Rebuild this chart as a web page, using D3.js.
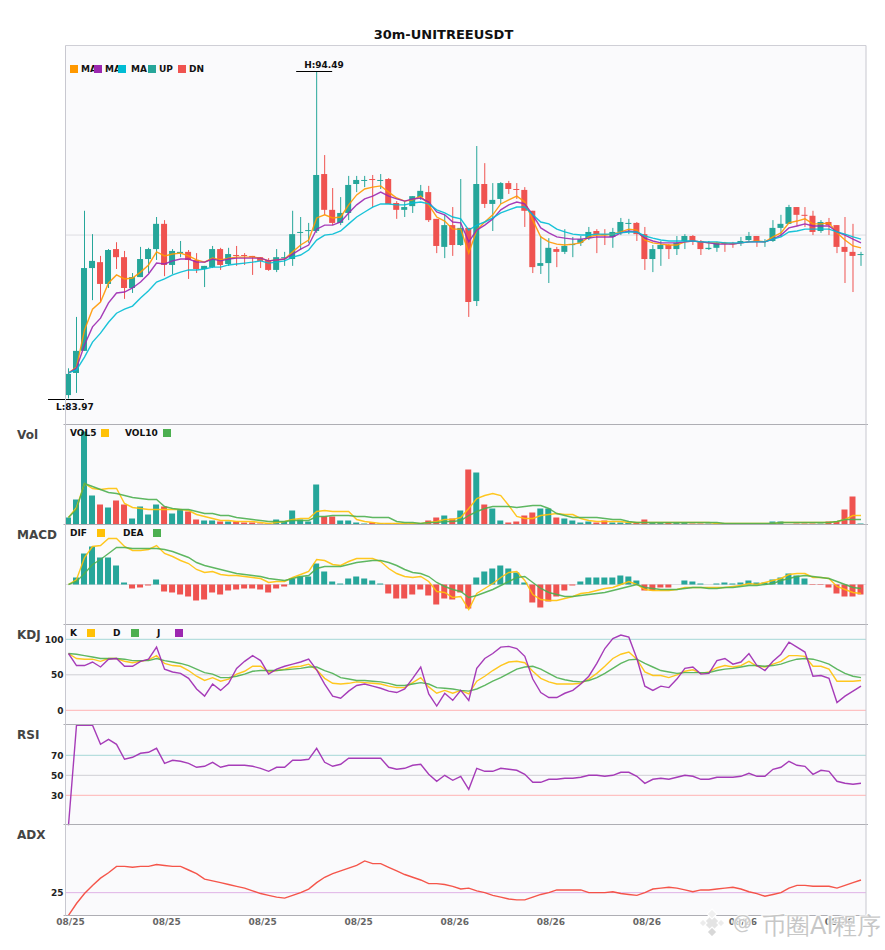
<!DOCTYPE html>
<html><head><meta charset="utf-8">
<script src="https://cdn.jsdelivr.net/npm/d3@7/dist/d3.min.js"></script>
<style>html,body{margin:0;padding:0;background:#fff}svg{display:block}text{font-family:"DejaVu Sans",sans-serif}</style>
</head><body><svg id="c" width="885" height="950"></svg>
<script>
const opens=[84.08,84.79,85.50,88.16,88.35,87.65,88.77,88.51,87.52,87.87,88.45,88.77,89.58,88.26,88.64,88.68,88.42,88.13,88.19,88.77,88.29,88.58,88.58,88.55,88.51,88.42,88.10,88.48,88.45,89.29,89.35,89.35,91.18,90.03,89.61,89.93,90.86,90.96,91.02,90.96,91.02,90.25,90.03,90.15,90.44,90.60,89.74,88.84,89.54,88.90,89.45,87.10,90.86,90.22,90.38,90.89,90.70,90.67,90.00,88.23,88.32,88.77,88.68,88.90,88.97,89.12,89.35,89.25,89.16,89.32,89.58,89.61,89.25,88.45,88.77,88.90,88.77,89.03,89.19,89.03,88.77,88.81,88.97,88.97,88.97,89.06,89.19,89.00,89.03,89.45,89.58,90.12,89.87,89.84,89.35,89.64,89.54,88.84,88.68,88.58];
const closes=[84.76,85.50,88.16,88.39,87.65,88.74,88.51,87.52,87.87,88.45,88.77,89.58,88.26,88.71,88.68,88.42,88.13,88.23,88.77,88.26,88.61,88.55,88.55,88.51,88.39,88.10,88.51,88.51,89.25,89.32,89.38,91.15,90.03,89.61,89.93,90.83,90.99,90.99,90.99,90.99,90.22,90.03,90.12,90.47,90.64,89.70,88.87,89.54,88.90,89.45,87.07,90.86,90.22,90.35,90.89,90.70,90.67,90.00,88.19,88.32,88.81,88.68,88.87,88.93,89.09,89.32,89.25,89.22,89.32,89.64,89.61,89.25,88.45,88.77,88.90,88.77,88.97,89.19,89.03,88.77,88.81,88.97,88.93,88.93,89.03,89.19,89.03,89.03,89.45,89.58,90.12,89.87,89.84,89.32,89.64,89.54,88.84,88.68,88.55,88.61];
const highs=[84.94,86.59,90.00,89.25,88.55,88.77,88.99,88.71,88.00,88.84,88.81,89.80,89.70,88.77,89.03,88.74,88.64,88.23,88.87,88.81,88.81,88.87,88.64,88.55,88.51,88.48,88.77,88.68,90.00,89.80,89.61,94.49,91.79,90.73,90.44,91.12,91.12,91.12,91.15,91.18,91.05,90.31,90.31,90.47,90.83,90.80,89.74,89.87,90.12,91.02,89.45,92.08,91.53,90.89,90.92,90.96,90.89,90.76,90.00,89.19,89.12,88.84,89.41,89.16,89.19,89.48,89.41,89.41,89.45,89.77,89.74,89.64,89.48,88.90,89.03,88.93,89.19,89.25,89.22,89.06,89.03,89.00,89.00,89.00,89.16,89.32,89.19,89.09,89.70,89.87,90.19,90.12,90.12,90.00,89.70,89.77,89.54,89.80,89.58,88.68];
const lows=[83.97,84.15,85.50,87.13,87.07,87.52,88.13,87.17,87.36,87.87,88.00,88.42,87.90,87.97,88.51,87.81,88.00,87.55,88.16,88.10,88.23,88.23,88.26,87.94,88.16,88.07,88.03,88.23,88.23,88.74,88.97,89.29,89.87,89.54,89.54,89.70,90.60,90.76,90.12,90.70,90.22,89.74,89.80,89.93,90.35,89.64,88.64,88.48,88.55,88.87,86.59,86.94,90.09,89.35,90.22,90.54,90.38,89.48,88.00,87.97,87.68,88.19,88.61,88.51,88.87,89.06,88.64,88.90,88.81,89.22,89.25,89.03,88.10,88.03,88.23,88.45,88.58,88.77,88.90,88.58,88.74,88.68,88.68,88.81,88.87,89.00,88.84,88.84,89.00,89.16,89.58,89.51,89.48,89.22,89.29,89.22,88.64,87.68,87.39,88.23];
const ma5=[84.79,84.98,86.17,86.84,87.07,87.68,87.94,87.81,87.84,88.03,88.26,88.68,88.55,88.61,88.64,88.55,88.42,88.35,88.48,88.42,88.48,88.51,88.51,88.51,88.48,88.39,88.42,88.45,88.68,88.90,89.06,89.77,89.87,89.77,89.80,90.19,90.51,90.70,90.76,90.80,90.60,90.41,90.31,90.35,90.47,90.19,89.80,89.67,89.41,89.41,88.64,89.38,89.64,89.87,90.22,90.35,90.47,90.28,89.70,89.16,89.00,88.93,88.90,88.93,88.97,89.16,89.22,89.22,89.25,89.32,89.41,89.38,89.06,88.97,88.93,88.90,88.90,89.00,89.03,89.00,88.97,88.97,88.97,88.93,88.97,89.00,89.03,89.00,89.16,89.29,89.61,89.67,89.74,89.58,89.58,89.61,89.29,89.06,88.87,88.81];
const ma10=[84.79,84.95,85.69,86.27,86.55,87.04,87.36,87.39,87.52,87.71,87.97,88.32,88.29,88.39,88.45,88.45,88.35,88.35,88.45,88.39,88.45,88.48,88.48,88.48,88.48,88.39,88.42,88.45,88.61,88.77,88.90,89.41,89.54,89.54,89.64,89.93,90.19,90.38,90.47,90.60,90.47,90.38,90.31,90.38,90.41,90.28,89.96,89.87,89.64,89.61,89.00,89.38,89.54,89.74,90.03,90.19,90.28,90.22,89.87,89.45,89.29,89.16,89.12,89.09,89.09,89.12,89.16,89.16,89.16,89.29,89.35,89.32,89.12,89.03,88.97,88.97,88.97,89.00,89.03,89.00,88.97,88.93,88.93,88.93,88.97,89.00,89.00,89.00,89.09,89.22,89.45,89.51,89.58,89.51,89.51,89.51,89.32,89.22,89.09,88.97];
const ma20=[84.79,84.89,85.30,85.78,86.07,86.42,86.71,86.84,86.94,87.20,87.43,87.71,87.81,87.94,88.03,88.10,88.10,88.13,88.19,88.19,88.26,88.29,88.32,88.35,88.39,88.32,88.35,88.39,88.51,88.58,88.74,89.06,89.22,89.25,89.35,89.58,89.80,89.96,90.12,90.22,90.22,90.19,90.19,90.25,90.28,90.22,90.03,89.93,89.80,89.74,89.38,89.54,89.64,89.77,89.93,90.03,90.12,90.12,89.87,89.64,89.58,89.41,89.32,89.25,89.22,89.22,89.25,89.25,89.25,89.29,89.32,89.32,89.19,89.12,89.06,89.03,89.03,89.03,89.03,89.00,89.00,89.00,88.97,88.97,88.97,89.00,89.00,89.00,89.09,89.16,89.32,89.35,89.41,89.41,89.41,89.41,89.32,89.25,89.16,89.09];
const volumes=[7,25,93,29,20,17,24,20,6,18,10,20,18,11,15,13,5,4,4,3,3,3,2,2,1,1,5,3,14,5,3,40,8,8,4,4,2,1,2,1,1,1,1,1,1,4,7,9,6,14,55,52,20,16,4,2,3,9,12,16,16,7,6,4,2,3,2,4,2,2,2,2,5,2,2,2,2,2,1,1,1,1,1,1,0.5,0.5,0.5,0.5,3,3,0.5,1,1,1,1,3,3,15,28,1];
const vol5=[7,17,41,36,35,36,36,21,17,16,15,15,15,15,15,14,10,8,6,4,4,3,3,3,2,1,2,3,5,6,6,13,14,13,13,13,5,3,2,1,1,1,1,1,1,2,3,5,5,7,16,26,29,31,29,19,8,6,6,9,10,11,10,10,6,4,3,3,3,3,2,2,2,2,2,2,2,2,2,2,2,1,1,1,1,1,1,1,1,2,2,2,2,2,2,2,3,5,9,9];
const vol10=[7,15,41,38,35,32,31,29,27,26,25,25,18,16,15,15,13,11,11,9,9,7,6,5,4,3,3,3,4,4,4,8,8,9,9,9,8,8,7,7,7,3,2,2,1,2,2,3,3,4,9,13,16,18,18,18,17,18,19,19,16,11,9,7,7,7,7,6,5,5,3,2,2,2,2,2,2,2,2,2,2,2,1,1,1,1,1,1,1,2,2,2,2,2,2,2,3,5,5,5];
const macdHist=[0,7,31,38,27,27,19,2,-4,-3,-1,5,-7,-8,-10,-12,-16,-15,-8,-10,-6,-5,-4,-4,-5,-8,-4,-2,6,8,8,21,13,3,1,6,8,6,4,1,-9,-14,-14,-10,-5,-11,-20,-14,-15,-8,-24,7,13,16,19,16,12,2,-18,-23,-17,-12,-6,-1,3,7,7,7,7,9,8,4,-6,-6,-3,-3,0,4,3,1,0,1,2,1,2,4,2,2,5,7,11,9,6,-0.5,-0.5,-3,-9,-12,-12,-10];
const dif=[0,5,27,38,39,46,46,38,34,34,35,39,31,28,24,21,15,12,13,10,9,9,8,7,6,2,3,3,7,10,13,25,24,20,19,23,26,26,26,23,16,11,8,7,8,3,-7,-8,-13,-12,-25,-9,-4,1,7,12,13,4,-10,-15,-16,-16,-14,-12,-9,-8,-6,-4,-3,0,3,0,-5,-6,-6,-6,-5,-3,-3,-3,-3,-3,-3,-2,-1,1,0,2,4,6,10,11,11,7,7,6,-2,-5,-8,-9];
const dea=[0,3,11,20,25,31,37,37,36,36,36,36,35,33,30,27,22,19,17,15,13,11,10,9,8,6,5,4,6,8,9,16,18,18,18,20,22,23,24,24,22,19,15,12,11,8,2,-2,-5,-7,-13,-11,-8,-5,-1,3,7,8,2,-4,-8,-10,-12,-12,-11,-10,-9,-8,-6,-4,-2,0,-3,-4,-5,-5,-5,-4,-3,-3,-4,-4,-3,-3,-2,-1,-1,0,1,4,6,8,9,8,7,6,3,0,-3,-4];
const kLine=[80,73,72,72,69,73,73,69,67,69,71,77,66,63,62,56,48,42,46,41,44,51,55,62,62,54,56,58,61,62,65,57,45,38,37,38,40,39,38,37,34,32,32,39,46,33,24,28,24,28,23,41,48,56,63,68,69,67,55,45,40,37,37,37,38,44,52,62,73,79,82,72,54,49,49,46,50,55,57,52,54,60,63,61,63,69,62,61,65,69,77,77,76,62,62,58,41,41,41,42];
const dLine=[80,79,77,75,73,73,73,72,70,70,70,73,70,68,66,63,58,53,51,46,46,48,51,55,56,56,56,57,58,59,61,61,56,52,46,44,42,42,41,40,38,35,35,37,39,37,32,31,30,28,27,30,35,41,46,52,58,61,62,58,52,46,43,41,40,42,46,52,59,66,71,72,66,61,56,54,52,53,53,53,53,56,58,59,61,63,63,62,63,65,69,72,73,72,69,65,58,52,48,46];
const jLine=[80,63,63,68,61,72,73,62,62,69,72,89,58,54,52,45,30,20,37,28,38,59,69,77,70,51,58,62,65,68,72,57,37,20,17,27,35,37,34,31,27,25,30,45,61,23,6,24,14,28,14,59,73,80,89,90,87,76,44,25,18,18,24,28,37,48,66,87,101,106,103,73,34,28,34,32,44,59,61,51,52,70,73,65,68,80,63,56,69,79,96,89,82,48,49,45,11,20,27,34];
const rsi=[0,100,100,100,81,86,81,66,68,72,73,77,62,65,64,62,58,59,63,58,60,60,60,59,57,54,58,58,65,65,66,77,63,59,61,67,67,67,67,67,58,56,57,60,61,51,44,50,45,49,36,57,54,54,57,56,55,51,43,43,46,46,47,47,48,50,50,49,50,53,53,49,42,46,47,46,48,50,49,46,46,48,48,48,49,52,49,49,56,58,64,60,59,51,55,54,44,42,41,42];
const adx=[0,13,24,33,41,47,54,54,53,54,54,56,55,54,54,50,46,40,38,36,34,32,30,27,24,22,20,19,22,25,29,36,42,46,49,52,55,60,57,57,53,49,45,42,39,35,35,34,32,29,30,27,25,22,20,18,17,17,20,23,25,28,28,28,28,25,25,25,26,24,23,22,25,29,30,31,30,28,26,28,28,29,30,31,29,26,24,21,23,25,30,33,33,32,32,32,30,33,36,39];
const dateLabels=["08/25","08/25","08/25","08/25","08/26","08/26","08/26","08/26","08/26"];
const labelEvery=12, extremeHigh=94.49, extremeLow=83.97;
const kdjTicks=[100,50,0], rsiTicks=[70,50,30], adxTicks=[25];

const UP="#26a69a",DN="#ef5350",YEL="#ffc107",GRN="#4caf50",PUR="#9c27b0",ORG="#ff9800",CYA="#00bcd4";
const svg=d3.select("#c");
const idx=d3.range(opens.length);
const x=d3.scalePoint().domain(idx).range([68,860.5]);
const L=65.5,R=866,T=45.5;
const seps=[424.5,524.5,624.5,724.5,824.5,915.5];
const tops=[T,...seps.slice(0,5)];
const yP=d3.scaleLinear().domain([extremeLow,extremeHigh]).range([398.5,71]);
const yV=d3.scaleLinear().domain([0,100]).range([seps[1],seps[0]]);
const yM=d3.scaleLinear().domain([-40,60]).range([seps[2],seps[1]]);
const yK=d3.scaleLinear().domain([0,100]).range([710.3,639.3]);
const yR=d3.scaleLinear().domain([30,70]).range([795.3,755.3]);
const yA=d3.scaleLinear().domain([0,100]).range([915.3,824.7]);

svg.append("text").attr("x",443.5).attr("y",39).attr("text-anchor","middle").attr("font-size",13).attr("font-weight","bold").attr("fill","#111").text("30m-UNITREEUSDT");
svg.append("rect").attr("x",L).attr("y",T).attr("width",R-L).attr("height",seps[5]-T).attr("fill","#fafafc");

// guide lines
const hl=(y,c)=>svg.append("line").attr("x1",L).attr("x2",R).attr("y1",y).attr("y2",y).attr("stroke",c).attr("stroke-width",1);
hl(yP(89.22),"#dddde2");
hl(yM(0),"#dddde2");
[[100,"#a5d8d6"],[50,"#cfcfd4"],[0,"#ffb3b3"]].forEach(([v,c])=>hl(yK(v),c));
[[70,"#a5d8d6"],[50,"#cfcfd4"],[30,"#ffb3b3"]].forEach(([v,c])=>hl(yR(v),c));
hl(yA(25),"#dfb3e6");

// candles
const col=i=>closes[i]>=opens[i]?UP:DN;
const g=svg.append("g");
g.selectAll("line").data(idx).join("line").attr("x1",i=>x(i)+0.5).attr("x2",i=>x(i)+0.5).attr("y1",i=>yP(highs[i])).attr("y2",i=>yP(lows[i])).attr("stroke",col).attr("stroke-width",1);
g.selectAll("rect").data(idx).join("rect").attr("x",i=>x(i)-3).attr("width",6).attr("y",i=>yP(Math.max(opens[i],closes[i]))).attr("height",i=>Math.max(1,Math.abs(yP(opens[i])-yP(closes[i])))).attr("fill",col);

const drawLine=(arr,y,c,w=1.4,op=0.9)=>svg.append("path").attr("fill","none").attr("stroke",c).attr("stroke-width",w).attr("opacity",op).attr("d",d3.line().x((d,i)=>x(i)+0.5).y(d=>y(d))(arr));
drawLine(ma5,yP,ORG);drawLine(ma10,yP,PUR);drawLine(ma20,yP,CYA);

// extremes
const hi=highs.indexOf(extremeHigh),lo=lows.indexOf(extremeLow);
const ann=(i,v,t,ty)=>{svg.append("line").attr("x1",x(i)-20).attr("x2",x(i)+16).attr("y1",Math.round(yP(v))+0.5).attr("y2",Math.round(yP(v))+0.5).attr("stroke","#000").attr("stroke-width",1);
 svg.append("text").attr("x",x(i)-12).attr("y",ty).attr("font-size",9).attr("font-weight","bold").attr("fill","#111").text(t);};
ann(hi,extremeHigh,"H:"+extremeHigh,68);
ann(lo,extremeLow,"L:"+extremeLow,410);

// volume
svg.append("g").selectAll("rect").data(idx).join("rect").attr("x",i=>x(i)-3).attr("width",6).attr("y",i=>yV(volumes[i])).attr("height",i=>yV(0)-yV(volumes[i])).attr("fill",col);
drawLine(vol5,yV,YEL);drawLine(vol10,yV,GRN);

// macd
svg.append("g").selectAll("rect").data(idx).join("rect").attr("x",i=>x(i)-3).attr("width",6).attr("y",i=>yM(Math.max(0,macdHist[i]))).attr("height",i=>Math.abs(yM(macdHist[i])-yM(0))).attr("fill",i=>macdHist[i]>=0?UP:DN);
drawLine(dif,yM,YEL);drawLine(dea,yM,GRN);

// kdj rsi adx
drawLine(kLine,yK,YEL);drawLine(dLine,yK,GRN);drawLine(jLine,yK,PUR);
drawLine(rsi,yR,PUR);
drawLine(adx,yA,"#f44336");

// frame
seps.forEach(y=>{svg.append("line").attr("x1",L-2).attr("x2",R+2).attr("y1",y).attr("y2",y).attr("stroke","#aeaeb4").attr("stroke-width",1);});
svg.append("line").attr("x1",L).attr("x2",R).attr("y1",T).attr("y2",T).attr("stroke","#cfcfd6");
[L,R].forEach(v=>svg.append("line").attr("x1",v).attr("x2",v).attr("y1",T).attr("y2",seps[5]).attr("stroke","#c8c8d0"));

// axes
const axisStyle=s=>{s.select(".domain").remove();s.selectAll(".tick line").remove();s.selectAll("text").attr("font-size",9).attr("font-weight","bold").attr("fill","#222").attr("font-family","DejaVu Sans");};
const leftAxis=(y,t)=>svg.append("g").attr("transform",`translate(${L-2},0)`).call(d3.axisLeft(y).tickValues(t).tickSize(0).tickPadding(0)).call(axisStyle);
leftAxis(yK,kdjTicks);leftAxis(yR,rsiTicks);leftAxis(yA,adxTicks);
const xTicks=idx.filter(i=>i%labelEvery===0);
svg.append("g").attr("transform",`translate(2,${seps[5]})`).call(d3.axisBottom(x).tickValues(xTicks).tickSize(0).tickPadding(3).tickFormat((d,k)=>dateLabels[k])).call(axisStyle).call(s=>s.selectAll("text").attr("fill","#666"));

// panel names
["Vol","MACD","KDJ","RSI","ADX"].forEach((t,k)=>svg.append("text").attr("x",17).attr("y",tops[k+1]+14.5).attr("font-size",12).attr("font-weight","bold").attr("fill","#444").text(t));

// legends
const leg=(items,yc)=>items.forEach(([t,tx,c,sx])=>{
 svg.append("text").attr("x",tx).attr("y",yc+3.2).attr("font-size",9).attr("font-weight","bold").attr("fill","#111").text(t);
 svg.append("rect").attr("x",sx).attr("y",yc-4).attr("width",8).attr("height",8).attr("fill",c);});
svg.append("rect").attr("x",70).attr("y",65).attr("width",8).attr("height",8).attr("fill",ORG);
leg([["MA",81,PUR,94],["MA",105,CYA,118],["MA",131,UP,148],["UP",159,DN,178],["DN",189,"none",-20]],69);
leg([["VOL5",70,YEL,101],["VOL10",125,GRN,163]],433);
leg([["DIF",70,YEL,97],["DEA",123,GRN,153]],533);
leg([["K",70,YEL,87],["D",113,GRN,131],["J",157,PUR,175]],633);

// watermark
const wm=svg.append("g").attr("fill","#bdbdbd").attr("stroke","#fff").attr("stroke-width",2.5).attr("paint-order","stroke").attr("stroke-opacity",.8);
wm.append("text").attr("x",762).attr("y",934).attr("font-family","Noto Sans CJK SC").attr("font-size",24).attr("fill-opacity",.85).text("币圈AI程序");
wm.append("text").attr("x",733).attr("y",929).attr("font-size",19).attr("fill-opacity",.8).text("@");
const logo=svg.append("g").attr("transform","translate(712,923)");
[[0,0,9,"#e4e4e4"],[0,-9,5,"#f0f0f0"],[-9,0,4,"#ececec"],[9,0,4,"#ececec"],[0,9,5,"#d8d8d8"]].forEach(([dx,dy,r,c])=>logo.append("path").attr("fill",c).attr("stroke","#fff").attr("stroke-width",1.2).attr("d",`M${dx} ${dy-r}L${dx+r} ${dy}L${dx} ${dy+r}L${dx-r} ${dy}Z`));
</script></body></html>
